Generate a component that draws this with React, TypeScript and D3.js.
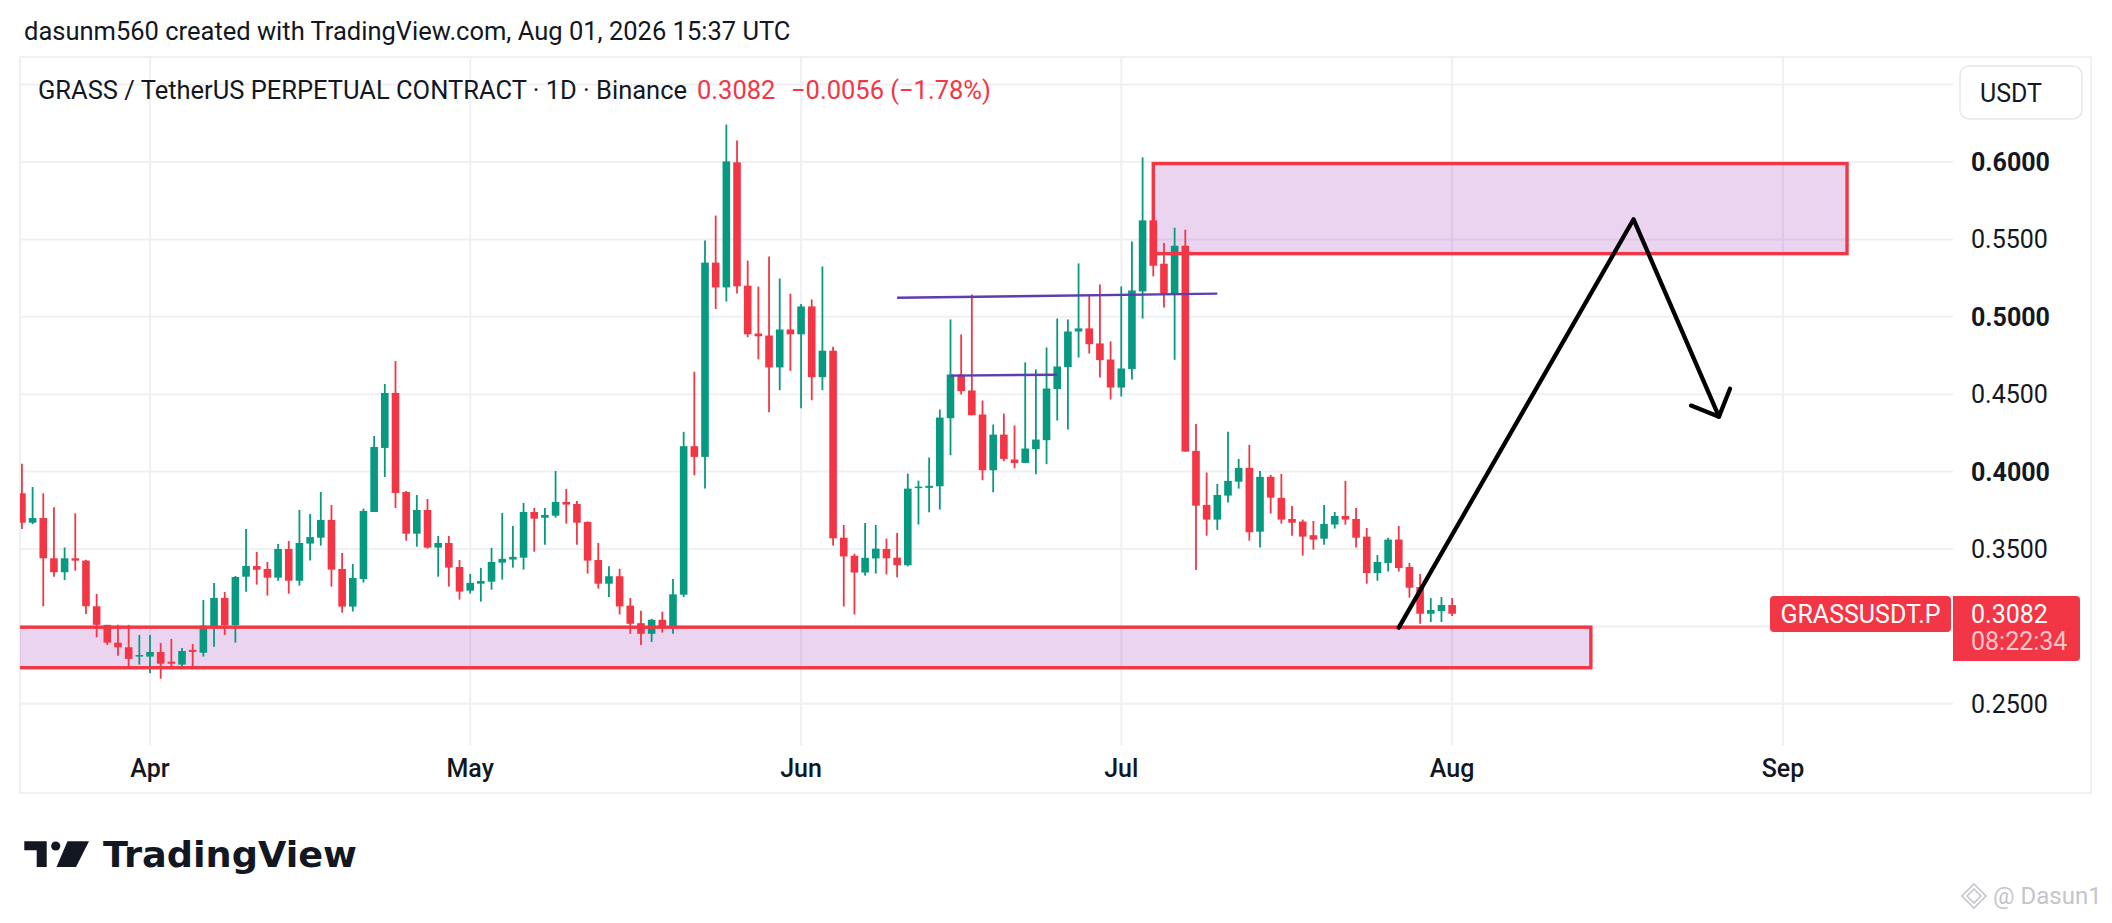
import React from 'react';
import * as d3 from 'd3';

const W = 2112;
const H = 923;

// Daily candles from 2026-03-20 to 2026-08-01
const firstDay = '2026-03-20';
const lastDay = '2026-08-01';
const opens = [
  0.386, 0.367, 0.370, 0.344, 0.335, 0.344, 0.3425, 0.313, 0.301, 0.2895, 0.2865, 0.2805,
  0.2805, 0.2835, 0.2772, 0.2753, 0.2848, 0.2830, 0.2998, 0.3184, 0.3007, 0.3321, 0.3390, 0.3371, 0.3315, 0.3500, 0.3295, 0.3535, 0.3573, 0.3688, 0.3371, 0.3128, 0.3306, 0.3739, 0.4153, 0.4508, 0.3868, 0.3599, 0.3752, 0.3509, 0.3539, 0.3384,
  0.3231, 0.3276, 0.3289, 0.3412, 0.3432, 0.3444, 0.3739, 0.3702, 0.3715, 0.3804, 0.3791, 0.3675, 0.3429, 0.3276, 0.3324, 0.3134, 0.3021, 0.2952, 0.3043, 0.2993, 0.3205, 0.4164, 0.4095, 0.5350, 0.5190, 0.5998, 0.5201, 0.4892, 0.4879, 0.4673, 0.4918,
  0.4887, 0.5067, 0.4610, 0.4781, 0.3573, 0.3456, 0.3348, 0.3439, 0.3500, 0.3444, 0.3395, 0.3895, 0.3895, 0.3905, 0.4345, 0.4627, 0.4524, 0.4369, 0.4009, 0.4239, 0.4078, 0.4056, 0.4145, 0.4203, 0.4533, 0.4675, 0.4905, 0.4925, 0.4828, 0.4724,
  0.4543, 0.4662, 0.5164, 0.5623, 0.5343, 0.5149, 0.5459, 0.4134, 0.3785, 0.3690, 0.3845, 0.3935, 0.4024, 0.3612, 0.3966, 0.3830, 0.3694, 0.3677, 0.3589, 0.3567, 0.3658, 0.3713, 0.3694, 0.3580, 0.3345, 0.3410, 0.3561, 0.3384, 0.3254, 0.3082, 0.3099,
  0.3138,
];
const highs = [
  0.405, 0.390, 0.386, 0.377, 0.351, 0.373, 0.343, 0.321, 0.301, 0.301, 0.301, 0.2945,
  0.2945, 0.2893, 0.2919, 0.2861, 0.2886, 0.3171, 0.3280, 0.3222, 0.3326, 0.3629, 0.3481, 0.3416, 0.3532, 0.3552, 0.3752, 0.3726, 0.3868, 0.3784, 0.3474, 0.3403, 0.3761, 0.4230, 0.4566, 0.4714, 0.3875, 0.3849, 0.3823, 0.3584, 0.3584, 0.3429,
  0.3339, 0.3378, 0.3507, 0.3733, 0.3649, 0.3797, 0.3765, 0.3765, 0.4004, 0.3888, 0.3810, 0.3678, 0.3539, 0.3389, 0.3372, 0.3183, 0.3101, 0.3049, 0.3095, 0.3307, 0.4257, 0.4645, 0.5493, 0.5654, 0.6242, 0.6139, 0.5363, 0.5195, 0.5389, 0.5247, 0.5149,
  0.5082, 0.5112, 0.5325, 0.4807, 0.3655, 0.3469, 0.3668, 0.3655, 0.3567, 0.3604, 0.3987, 0.3942, 0.4091, 0.4401, 0.4983, 0.4886, 0.5144, 0.4459, 0.4304, 0.4375, 0.4298, 0.4705, 0.4660, 0.4802, 0.4989, 0.4983, 0.5345, 0.5144, 0.5209, 0.4841,
  0.5196, 0.5487, 0.6030, 0.5650, 0.5476, 0.5575, 0.5562, 0.4308, 0.3994, 0.3920, 0.4257, 0.4082, 0.4173, 0.4004, 0.3979, 0.3985, 0.3778, 0.3690, 0.3681, 0.3785, 0.3739, 0.3940, 0.3765, 0.3636, 0.3461, 0.3573, 0.3649, 0.3410, 0.3339, 0.3183, 0.3190,
  0.3183,
];
const lows = [
  0.363, 0.366, 0.313, 0.332, 0.330, 0.336, 0.308, 0.293, 0.288, 0.281, 0.274, 0.2753,
  0.2697, 0.2662, 0.2740, 0.2727, 0.2740, 0.2805, 0.2869, 0.2945, 0.2895, 0.3224, 0.3270, 0.3199, 0.3295, 0.3211, 0.3263, 0.3425, 0.3522, 0.3257, 0.3089, 0.3096, 0.3283, 0.3739, 0.3965, 0.3765, 0.3554, 0.3515, 0.3502, 0.3321, 0.3257, 0.3173,
  0.3212, 0.3160, 0.3237, 0.3302, 0.3380, 0.3367, 0.3483, 0.3528, 0.3702, 0.3664, 0.3528, 0.3341, 0.3244, 0.3190, 0.3077, 0.2952, 0.2880, 0.2900, 0.2960, 0.2952, 0.3190, 0.3976, 0.3891, 0.5050, 0.5099, 0.5151, 0.4868, 0.4725, 0.4383, 0.4526, 0.4651,
  0.4409, 0.4461, 0.4526, 0.3523, 0.3129, 0.3077, 0.3328, 0.3341, 0.3336, 0.3317, 0.3388, 0.3658, 0.3737, 0.3755, 0.4106, 0.4498, 0.4364, 0.3944, 0.3867, 0.4067, 0.4022, 0.4056, 0.3983, 0.4048, 0.4330, 0.4272, 0.4737, 0.4763, 0.4608, 0.4466,
  0.4485, 0.4595, 0.4989, 0.5261, 0.5060, 0.4722, 0.4129, 0.3364, 0.3586, 0.3623, 0.3800, 0.3890, 0.3554, 0.3509, 0.3729, 0.3664, 0.3586, 0.3457, 0.3496, 0.3528, 0.3632, 0.3657, 0.3509, 0.3276, 0.3295, 0.3354, 0.3354, 0.3186, 0.3017, 0.3028, 0.3028,
  0.3067,
];
const closes = [
  0.367, 0.370, 0.344, 0.335, 0.344, 0.3425, 0.313, 0.301, 0.2895, 0.2865, 0.279, 0.2815,
  0.2835, 0.2759, 0.2759, 0.2841, 0.2835, 0.3005, 0.3184, 0.3007, 0.3319, 0.3390, 0.3366, 0.3315, 0.3500, 0.3295, 0.3539, 0.3577, 0.3688, 0.3367, 0.3128, 0.3313, 0.3746, 0.4159, 0.4508, 0.3862, 0.3599, 0.3752, 0.3509, 0.3539, 0.3380, 0.3225,
  0.3281, 0.3293, 0.3416, 0.3436, 0.3449, 0.3739, 0.3696, 0.3720, 0.3804, 0.3787, 0.3670, 0.3425, 0.3276, 0.3324, 0.3129, 0.3017, 0.2952, 0.3043, 0.2995, 0.3207, 0.4164, 0.4095, 0.5350, 0.5190, 0.6004, 0.5197, 0.4887, 0.4874, 0.4673, 0.4918, 0.4887,
  0.5067, 0.4610, 0.4781, 0.3569, 0.3452, 0.3348, 0.3443, 0.3502, 0.3440, 0.3395, 0.3890, 0.3903, 0.3908, 0.4349, 0.4627, 0.4520, 0.4364, 0.4009, 0.4239, 0.4082, 0.4056, 0.4149, 0.4207, 0.4537, 0.4679, 0.4905, 0.4925, 0.4823, 0.4720, 0.4543,
  0.4666, 0.5170, 0.5623, 0.5330, 0.5149, 0.5459, 0.4129, 0.3780, 0.3690, 0.3849, 0.3940, 0.4024, 0.3608, 0.3966, 0.3832, 0.3690, 0.3670, 0.3580, 0.3561, 0.3662, 0.3713, 0.3690, 0.3573, 0.3345, 0.3416, 0.3561, 0.3377, 0.3250, 0.3082, 0.3106, 0.3138,
  0.3082,
];

// Axis ticks
const priceTicks = [0.25, 0.3, 0.35, 0.4, 0.45, 0.5, 0.55, 0.6, 0.65];
const boldTicks = [0.4, 0.5, 0.6];
const hiddenTickLabels = [0.3, 0.65];
const monthTicks = ['2026-04-01', '2026-05-01', '2026-06-01', '2026-07-01', '2026-08-01', '2026-09-01'];
const monthLabels = ['Apr', 'May', 'Jun', 'Jul', 'Aug', 'Sep'];

// Drawings: rectangles (zones)
const zoneStart = ['2026-03-10', '2026-07-04'];
const zoneEnd = ['2026-08-14', '2026-09-07'];
const zoneTop = [0.2995, 0.599];
const zoneBottom = [0.2733, 0.5408];

// Drawings: horizontal-ish trend lines
const lineStart = ['2026-06-10', '2026-06-15'];
const lineEnd = ['2026-07-10', '2026-06-25'];
const lineStartPrice = [0.5123, 0.4620];
const lineEndPrice = [0.5150, 0.4626];

// Drawings: path arrow
const arrowDates = ['2026-07-27', '2026-08-18', '2026-08-26'];
const arrowPrices = [0.2992, 0.563, 0.4355];

const lastPrice = '0.3082';
const lastChange = '\u22120.0056 (\u22121.78%)';
const countdown = '08:22:34';

const GREEN = '#089981';
const RED = '#f23645';
const TEXT = '#131722';
const GRID = '#f0f0f3';

const parse = (s: string) => new Date(s + 'T00:00:00Z');

const PLOT = { left: 20, right: 1953, top: 57, bottom: 745 };

export default function App() {
  const dates = d3.utcDay.range(parse(firstDay), d3.utcDay.offset(parse(lastDay), 1));
  const x = d3.scaleUtc().domain([parse('2026-04-01'), parse('2026-09-01')]).range([150, 1783]);
  const y = d3.scaleLinear().domain([0.25, 0.6]).range([703.8, 162]);
  const bodyW = 7.6;

  const arrowPts = arrowDates.map((d, i) => [x(parse(d)), y(arrowPrices[i])] as [number, number]);
  const tip = arrowPts[arrowPts.length - 1];
  const prev = arrowPts[arrowPts.length - 2];
  const ang = Math.atan2(prev[1] - tip[1], prev[0] - tip[0]);
  const wing = 30;
  const w1: [number, number] = [tip[0] + wing * Math.cos(ang - Math.PI / 4), tip[1] + wing * Math.sin(ang - Math.PI / 4)];
  const w2: [number, number] = [tip[0] + wing * Math.cos(ang + Math.PI / 4), tip[1] + wing * Math.sin(ang + Math.PI / 4)];
  const lineGen = d3.line();

  const fontMain = 'Roboto, "Noto Sans", sans-serif';

  return (
    <svg width={W} height={H} style={{ position: 'absolute', left: 0, top: 0, background: '#fff' }}
      xmlns="http://www.w3.org/2000/svg">
      <rect x={0} y={0} width={W} height={H} fill="#ffffff" />
      <defs>
        <clipPath id="plotClip">
          <rect x={PLOT.left} y={PLOT.top} width={PLOT.right - PLOT.left} height={PLOT.bottom - PLOT.top} />
        </clipPath>
      </defs>

      {/* header */}
      <text x={24} y={40} fontFamily={fontMain} fontSize={25.5} fill={TEXT}>
        dasunm560 created with TradingView.com, Aug 01, 2026 15:37 UTC
      </text>

      {/* frame */}
      <rect x={20} y={57} width={2071} height={736} fill="none" stroke="#eef0f3" strokeWidth={2} />

      {/* grid */}
      <g clipPath="url(#plotClip)">
        {priceTicks.map((t) => (
          <line key={'h' + t} x1={PLOT.left} x2={PLOT.right} y1={y(t)} y2={y(t)} stroke={GRID} strokeWidth={2} />
        ))}
        {monthTicks.map((m) => (
          <line key={'v' + m} x1={x(parse(m))} x2={x(parse(m))} y1={PLOT.top} y2={PLOT.bottom} stroke={GRID} strokeWidth={2} />
        ))}
      </g>

      {/* title */}
      <text x={38} y={99} fontFamily={fontMain} fontSize={25.5} fill={TEXT}>
        GRASS / TetherUS PERPETUAL CONTRACT · 1D · Binance
      </text>
      <text x={697} y={99} fontFamily={fontMain} fontSize={25.5} fill={RED}>{lastPrice}</text>
      <text x={791} y={99} fontFamily={fontMain} fontSize={25.5} fill={RED}>{lastChange}</text>

      <g clipPath="url(#plotClip)">
        {/* zone fills */}
        {zoneStart.map((s, i) => (
          <rect key={'zf' + i} x={x(parse(s))} y={y(zoneTop[i])} width={x(parse(zoneEnd[i])) - x(parse(s))}
            height={y(zoneBottom[i]) - y(zoneTop[i])} fill="rgba(156,39,176,0.2)" />
        ))}
        {/* candles */}
        {dates.map((d, i) => {
          const cx = x(d);
          const o = opens[i], c = closes[i];
          const col = c >= o ? GREEN : RED;
          const top = y(Math.max(o, c));
          const bh = Math.max(1.5, Math.abs(y(o) - y(c)));
          return (
            <g key={i}>
              <line x1={cx} x2={cx} y1={y(highs[i])} y2={y(lows[i])} stroke={col} strokeWidth={1.8} />
              <rect x={cx - bodyW / 2} y={top} width={bodyW} height={bh} fill={col} />
            </g>
          );
        })}
        {/* zone borders */}
        {zoneStart.map((s, i) => (
          <rect key={'zb' + i} x={x(parse(s))} y={y(zoneTop[i])} width={x(parse(zoneEnd[i])) - x(parse(s))}
            height={y(zoneBottom[i]) - y(zoneTop[i])} fill="none" stroke={RED} strokeWidth={3.4} />
        ))}
        {/* trend lines */}
        {lineStart.map((s, i) => (
          <line key={'tl' + i} x1={x(parse(s))} y1={y(lineStartPrice[i])} x2={x(parse(lineEnd[i]))} y2={y(lineEndPrice[i])}
            stroke="#5e3db3" strokeWidth={2.4} />
        ))}
        {/* arrow path */}
        <path d={lineGen(arrowPts) || ''} fill="none" stroke="#000" strokeWidth={4.3} strokeLinejoin="round" strokeLinecap="round" />
        <path d={lineGen([w1, tip, w2]) || ''} fill="none" stroke="#000" strokeWidth={4.3} strokeLinejoin="round" strokeLinecap="round" />
      </g>

      {/* price axis labels */}
      {priceTicks.filter((t) => !hiddenTickLabels.includes(t)).map((t) => (
        <text key={'pl' + t} x={1971} y={y(t)} dy="0.36em" fontFamily={fontMain} fontSize={25}
          fontWeight={boldTicks.includes(t) ? 700 : 400} fill={TEXT}>
          {t.toFixed(4)}
        </text>
      ))}

      {/* USDT button */}
      <rect x={1960} y={66} width={122} height={53} rx={9} fill="#fff" stroke="#e6e8ec" strokeWidth={1.5} />
      <text x={2011} y={93} dy="0.36em" textAnchor="middle" fontFamily={fontMain} fontSize={25} fill={TEXT}>USDT</text>

      {/* symbol label */}
      <rect x={1770} y={596} width={181} height={36} rx={4} fill={RED} />
      <text x={1860.5} y={614} dy="0.36em" textAnchor="middle" fontFamily={fontMain} fontSize={25} fill="#fff">GRASSUSDT.P</text>

      {/* last price label */}
      <path d="M1953,596 H2076 a4,4 0 0 1 4,4 V657 a4,4 0 0 1 -4,4 H1953 Z" fill={RED} />
      <text x={1971} y={614} dy="0.36em" fontFamily={fontMain} fontSize={25} fill="#fff">{lastPrice}</text>
      <text x={1971} y={641} dy="0.36em" fontFamily={fontMain} fontSize={25} fill="rgba(255,255,255,0.72)">{countdown}</text>

      {/* time axis labels */}
      {monthTicks.map((m, i) => (
        <text key={'ml' + m} x={x(parse(m))} y={768} dy="0.36em" textAnchor="middle" fontFamily={fontMain}
          fontSize={25} fontWeight={500} fill={TEXT}>
          {monthLabels[i]}
        </text>
      ))}

      {/* TradingView logo */}
      <g fill={TEXT}>
        <path d="M24.3,841.3 H46.7 V867 H36.7 V850.3 H24.3 Z" />
        <circle cx={55.7} cy={846} r={4.6} />
        <path d="M67.5,841.3 H89 L76,867 H56.5 Z" />
        <text x={103} y={867} fontFamily='"DejaVu Sans", sans-serif' fontWeight={700} fontSize={36}
          textLength={254} lengthAdjust="spacingAndGlyphs">TradingView</text>
      </g>

      {/* watermark */}
      <g stroke="#c4c6cc" fill="none" strokeWidth={1.6}>
        <path d="M1974,884 L1986,896 L1974,908 L1962,896 Z" />
        <path d="M1974,889 L1981,896 L1974,903 L1967,896 Z" />
      </g>
      <text x={1993} y={904} fontFamily={fontMain} fontSize={24} fill="#c4c6cc">@ Dasun1</text>
    </svg>
  );
}
